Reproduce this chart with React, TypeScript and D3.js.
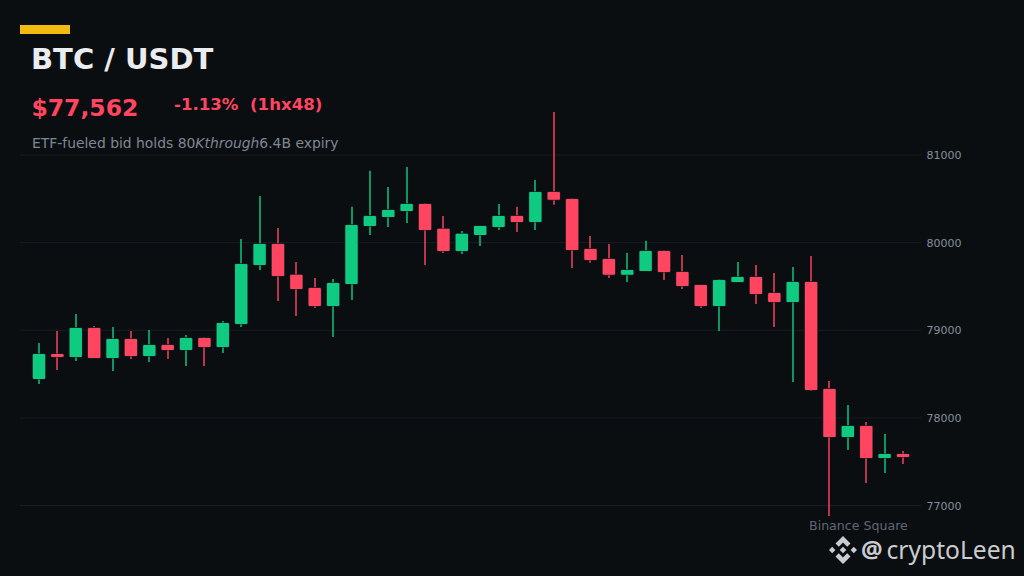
import React from "react";
import * as d3 from "d3";

const opens = [78444,78729,78695,79026,78684,78901,78707,78832,78775,78912,78809,79072,79746,79985,79632,79483,79278,79529,80191,80293,80362,80442,80157,79905,80088,80179,80305,80236,80579,80499,79928,79814,79632,79677,79905,79666,79517,79278,79552,79609,79426,79323,79552,78330,77782,77908,77542,77588];
const closes = [78729,78695,79026,78684,78901,78707,78832,78775,78912,78809,79083,79757,79985,79620,79472,79278,79540,80202,80305,80373,80442,80145,79905,80100,80191,80305,80236,80579,80488,79917,79803,79632,79689,79905,79666,79506,79278,79574,79609,79415,79323,79552,78318,77782,77908,77542,77588,77554];
const highs = [78855,78992,79185,79049,79038,78992,79004,78912,78947,78924,79106,80042,80533,80168,79780,79597,79586,80408,80819,80636,80864,80453,80305,80134,80191,80442,80408,80716,81492,80510,80077,79985,79883,80020,79917,79860,79506,79586,79780,79746,79654,79723,79848,78421,78147,77953,77816,77622];
const lows = [78387,78547,78650,78684,78535,78672,78638,78672,78593,78593,78741,79038,79689,79335,79163,79255,78924,79346,80088,80179,80225,79746,79883,79871,79962,80145,80122,80145,80431,79711,79769,79597,79552,79677,79574,79472,79255,78992,79552,79300,79038,78410,78307,76880,77634,77257,77371,77474];
const yTicks = [81000, 80000, 79000, 78000, 77000];

const BG = "#0b0e11";
const UP = "#0ecb81";
const DOWN = "#ff4560";
const SANS = "'DejaVu Sans', sans-serif";

const y = d3.scaleLinear().domain([77000, 81000]).range([505.5, 155]);
const x = d3.scaleLinear().domain([0, opens.length - 1]).range([39, 903]);

export default function App() {
  return (
    <svg width={1024} height={576} viewBox="0 0 1024 576" style={{ position: "absolute", left: 0, top: 0, background: BG }} fontFamily={SANS}>
      <rect width={1024} height={576} fill={BG} />
      {yTicks.map((t) => (
        <g key={t}>
          <line x1={20} x2={921} y1={y(t)} y2={y(t)} stroke="#1e2329" strokeWidth={1} opacity={0.7} />
          <text x={926.6} y={y(t) + 4} fontSize={11} fill="#848e9c">{t}</text>
        </g>
      ))}
      {opens.map((o, i) => {
        const c = closes[i];
        const col = c >= o ? UP : DOWN;
        const top = y(Math.max(o, c));
        const bot = y(Math.min(o, c));
        const cx = Math.round(x(i));
        return (
          <g key={i}>
            <line x1={cx} x2={cx} y1={y(highs[i])} y2={y(lows[i])} stroke={col} strokeWidth={2} opacity={0.72} />
            <rect x={x(i) - 6.2} width={12.4} y={top} height={Math.max(bot - top, 3)} rx={1} fill={col} stroke="#1e2329" strokeWidth={1.2} paintOrder="stroke" />
          </g>
        );
      })}
      <rect x={20} y={25} width={50} height={9} fill="#f3ba10" />
      <text x={31} y={69} fontSize={29} fontWeight="bold" fill="#eaecef">BTC / USDT</text>
      <text x={31.4} y={116} fontSize={23.5} fontWeight="bold" fill={DOWN}>$77,562</text>
      <text x={174} y={110} fontSize={16.6} fontWeight="bold" fill={DOWN} xmlSpace="preserve">-1.13%  (1hx48)</text>
      <text x={32} y={147.5} fontSize={13.9} fill="#7f8793">
        ETF-fueled bid holds 80<tspan fontStyle="italic">Kthrough</tspan>6.4B expiry
      </text>
      <text x={809} y={530} fontSize={12.6} fill="#5e6673">Binance Square</text>
      <g fill="#c9ccd0" transform="translate(843,550)">
        <path d="M0,-14 L7.5,-6.5 L4.2,-3.3 L0,-7.5 L-4.2,-3.3 L-7.5,-6.5 Z" />
        <path d="M0,14 L7.5,6.5 L4.2,3.3 L0,7.5 L-4.2,3.3 L-7.5,6.5 Z" />
        <path d="M-14,0 L-10.8,-3.2 L-7.6,0 L-10.8,3.2 Z" />
        <path d="M14,0 L10.8,-3.2 L7.6,0 L10.8,3.2 Z" />
        <path d="M0,-3.3 L3.3,0 L0,3.3 L-3.3,0 Z" />
      </g>
      <text x={861} y={558} fontSize={24} fontWeight="bold" fontFamily="'Noto Sans', sans-serif" fill="#c9ccd0">@</text>
      <text x={886.5} y={559} fontSize={24.6} fontFamily="'Noto Sans', sans-serif" fill="#c9ccd0">cryptoLeen</text>
    </svg>
  );
}
